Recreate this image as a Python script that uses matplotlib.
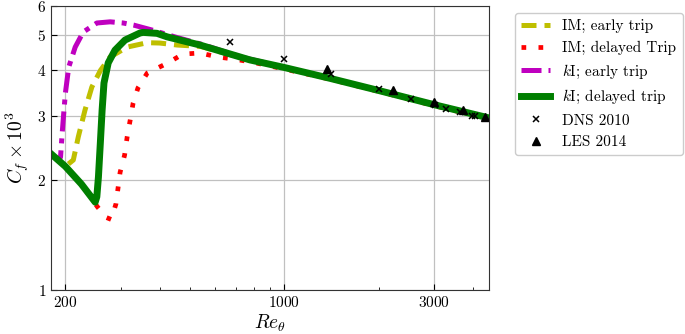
import matplotlib
matplotlib.use("Agg")
import matplotlib.pyplot as plt
from matplotlib.ticker import FixedLocator, NullFormatter, ScalarFormatter, NullLocator

plt.rcParams["font.family"] = "serif"
plt.rcParams["font.serif"] = ["cmr10", "DejaVu Serif"]
plt.rcParams["mathtext.fontset"] = "cm"
plt.rcParams["axes.formatter.use_mathtext"] = True
plt.rcParams["axes.unicode_minus"] = False

# ---- data (Re_theta, Cf x 10^3) ----
im_early_x = [180, 190, 200, 212, 220, 231, 243, 259, 278, 315, 365, 400, 455, 540, 720, 1000, 1400, 2000, 3000, 4500]
im_early_y = [2.36, 2.27, 2.18, 2.27, 2.63, 3.11, 3.60, 4.00, 4.35, 4.63, 4.76, 4.75, 4.69, 4.65, 4.34, 4.06, 3.79, 3.51, 3.21, 2.95]

im_delayed_x = [180, 200, 225, 253, 270, 280, 290, 299, 309, 315, 322, 329, 341, 365, 425, 474, 538, 613, 694, 800, 1000, 1400, 2000, 3000, 4500]
im_delayed_y = [2.36, 2.18, 1.95, 1.69, 1.58, 1.56, 1.72, 2.10, 2.34, 2.63, 2.92, 3.25, 3.58, 3.93, 4.19, 4.43, 4.46, 4.35, 4.29, 4.20, 4.03, 3.78, 3.50, 3.20, 2.94]

ki_early_x = [180, 190, 193, 195, 197.6, 200, 205, 215, 228, 252, 278, 306, 330, 380, 450, 550, 720, 1000, 1400, 2000, 3000, 4500]
ki_early_y = [2.36, 2.27, 2.31, 2.63, 3.05, 3.46, 4.08, 4.63, 5.09, 5.39, 5.43, 5.39, 5.32, 5.15, 4.93, 4.70, 4.36, 4.07, 3.80, 3.52, 3.22, 2.96]

ki_delayed_x = [180, 200, 225, 249, 252, 255, 258.6, 262, 265.6, 274, 288, 310, 346, 354, 392, 422, 538, 776, 1000, 1400, 2000, 3000, 4500]
ki_delayed_y = [2.36, 2.18, 1.95, 1.74, 1.80, 2.04, 2.53, 3.11, 3.69, 4.19, 4.54, 4.84, 5.06, 5.08, 5.05, 4.94, 4.69, 4.27, 4.07, 3.80, 3.52, 3.22, 2.96]

dns_x = [670, 1000, 1410, 2000, 2540, 3030, 3270, 3630, 3970, 4060]
dns_y = [4.78, 4.29, 3.91, 3.55, 3.34, 3.21, 3.13, 3.07, 3.00, 3.00]

les_x = [1372, 2220, 3000, 3720, 4380]
les_y = [4.03, 3.53, 3.28, 3.11, 2.98]

fig = plt.figure(figsize=(6.85, 3.34), dpi=100)
ax = fig.add_axes([0.0745, 0.132, 0.6395, 0.85])

ax.plot(im_early_x, im_early_y, color="#bfbf00", lw=3.6, linestyle=(0, (3, 1.6)), label="IM; early trip")
ax.plot(im_delayed_x, im_delayed_y, color="#ff0000", lw=3.4, linestyle=(0, (1, 2.6)), label="IM; delayed Trip")
ax.plot(ki_early_x, ki_early_y, color="#bf00bf", lw=3.6, linestyle=(0, (4, 1.4, 1, 1.4)), label="$k$I; early trip")
ax.plot(ki_delayed_x, ki_delayed_y, color="#007f00", lw=5, solid_joinstyle="round", label="$k$I; delayed trip")
ax.plot(dns_x, dns_y, "x", color="black", ms=5, mew=1.1, label="DNS 2010")
ax.plot(les_x, les_y, "^", color="black", ms=5.5, label="LES 2014")

ax.set_xscale("log")
ax.set_yscale("log")
ax.set_xlim(180, 4500)
ax.set_ylim(1, 6)

ax.xaxis.set_major_locator(FixedLocator([200, 1000, 3000]))
ax.xaxis.set_major_formatter(ScalarFormatter())
ax.xaxis.set_minor_locator(FixedLocator([300, 400, 500, 600, 700, 800, 900, 2000, 4000]))
ax.xaxis.set_minor_formatter(NullFormatter())
ax.yaxis.set_major_locator(FixedLocator([1, 2, 3, 4, 5, 6]))
ax.yaxis.set_major_formatter(ScalarFormatter())
ax.yaxis.set_minor_locator(NullLocator())

ax.tick_params(which="both", direction="in", labelsize=11)
ax.tick_params(which="major", length=4)
ax.tick_params(which="minor", length=2.5)
ax.grid(True, which="major", color="#c0c0c0", lw=0.9)
for s in ax.spines.values():
    s.set_color("#333333")

ax.set_xlabel(r"$Re_\theta$", fontsize=14, labelpad=2)
ax.set_ylabel(r"$C_f\times 10^3$", fontsize=14, labelpad=4)

fig.legend(loc="upper left", bbox_to_anchor=(0.752, 0.961), borderaxespad=0,
           fontsize=11, framealpha=1, edgecolor="#cccccc", handlelength=1.9)

fig.savefig("out.png", dpi=100)
